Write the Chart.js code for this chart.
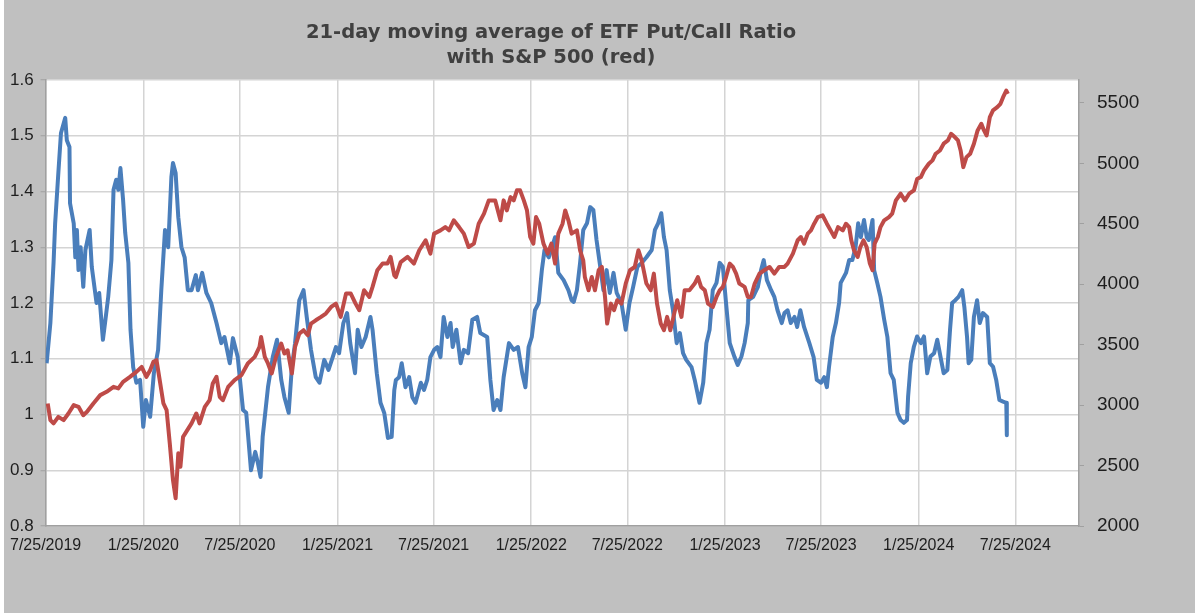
<!DOCTYPE html>
<html>
<head>
<meta charset="utf-8">
<title>ETF Put/Call Ratio with S&amp;P 500</title>
<script src="https://cdn.jsdelivr.net/npm/chart.js@4.4.1/dist/chart.umd.min.js"></script>
<style>
    html, body { margin: 0; padding: 0; background: #ffffff; }
    #wrap { position: relative; width: 1200px; height: 613px; }
</style>
</head>
<body>
<div id="wrap"><canvas id="chart" width="1200" height="613"></canvas></div>
<script>
(function() {
    'use strict';

    const titleLines = ['21-day moving average of ETF Put/Call Ratio', 'with S&P 500 (red)'];

    // x axis: day offsets from the first date
    const startDate = '7/25/2019';
    const endDate = '11/22/2024';
    const xTickLabels = ['7/25/2019', '1/25/2020', '7/25/2020', '1/25/2021', '7/25/2021', '1/25/2022',
        '7/25/2022', '1/25/2023', '7/25/2023', '1/25/2024', '7/25/2024'];

    const ratioTicks = [0.8, 0.9, 1, 1.1, 1.2, 1.3, 1.4, 1.5, 1.6];
    const ratioTickLabels = ['0.8', '0.9', '1', '1.1', '1.2', '1.3', '1.4', '1.5', '1.6'];
    const spxTicks = [2000, 2500, 3000, 3500, 4000, 4500, 5000, 5500];

    // 21-day MA of ETF put/call ratio (blue, left axis)
    const ratioDays = [2,9,15,18,24,29,37,40,45,46,53,56,59,62,66,71,75,83,87,96,
        101,108,112,118,124,128,133,137,141,146,150,156,160,165,171,178,184,189,197,204,
        212,218,225,231,237,240,245,250,256,262,268,275,283,287,295,303,312,322,331,
        337,347,353,362,372,378,387,395,400,405,409,419,428,436,444,450,458,464,470,478,
        486,492,500,509,516,525,533,541,547,553,561,568,574,583,588,595,603,612,616,624,
        631,638,645,652,657,
        660,666,671,678,685,691,697,707,713,719,725,732,738,744,750,757,763,767,774,782,
        788,796,804,813,819,832,838,844,851,857,863,873,882,890,898,904,910,916,922,929,
        935,940,948,954,960,966,976,985,991,
        995,1001,1007,1013,1020,1026,1032,1038,1045,1051,1057,1063,1070,1076,1085,1093,1100,1107,1115,1123,
        1132,1142,1148,1154,1160,1165,1170,1176,1182,1189,1195,1201,1207,1217,1223,1232,1239,1245,1251,1257,
        1264,1270,1276,1282,1289,1298,1304,1311,
        1317,1323,1324,1333,1342,1348,1353,1359,1367,1373,1379,1387,1392,1398,1404,1411,1416,1422,1429,1439,
        1447,1453,1461,1467,1472,1476,1483,1489,1495,1498,1508,1514,1520,1526,1531,1536,1542,1547,1551,1558,
        1561,1567,1573,1580,1586,1592,1598,1605,1611,1617,1623,
        1625,1630,1636,1642,1649,1655,1661,1667,1674,1680,1686,1692,1699,1704,1708,1714,1720,1727,1731,1736,
        1739,1744,1749,1755,1760,1766,1774,1779,1785,1791,1797,1804,1810,1811];
    const ratioValues = [1.092,1.164,1.272,1.343,1.433,1.505,1.532,1.492,1.48,1.379,1.343,1.282,1.331,1.259,1.30,1.229,1.295,1.331,1.265,1.2,
        1.218,1.134,1.164,1.211,1.277,1.403,1.421,1.403,1.442,1.385,1.326,1.272,1.152,1.085,1.057,1.062,0.978,1.026,0.996,1.074,
        1.116,1.223,1.331,1.30,1.426,1.451,1.433,1.354,1.30,1.282,1.223,1.223,1.25,1.223,1.254,1.218,1.2,1.164,1.128,
        1.139,1.092,1.137,1.103,1.008,1.003,0.9,0.933,0.913,0.888,0.96,1.049,1.103,1.134,1.062,1.031,1.003,1.085,1.128,1.205,
        1.223,1.175,1.116,1.067,1.057,1.098,1.08,1.103,1.121,1.11,1.164,1.182,1.128,1.074,1.152,1.121,1.139,1.175,1.152,1.074,
        1.021,1.003,0.958,0.96,1.044,
        1.062,1.067,1.092,1.049,1.067,1.031,1.021,1.057,1.044,1.062,1.103,1.116,1.121,1.103,1.175,1.139,1.164,1.121,1.152,1.092,
        1.116,1.11,1.17,1.175,1.146,1.139,1.062,1.008,1.026,1.008,1.067,1.128,1.116,1.121,1.074,1.049,1.121,1.139,1.187,1.2,
        1.259,1.295,1.282,1.30,1.318,1.254,1.241,1.223,1.205,
        1.202,1.223,1.272,1.331,1.343,1.372,1.367,1.313,1.265,1.223,1.259,1.218,1.254,1.218,1.2,1.152,1.2,1.229,1.265,1.272,
        1.282,1.295,1.331,1.343,1.361,1.318,1.295,1.223,1.187,1.128,1.146,1.11,1.098,1.085,1.062,1.021,1.057,1.128,1.152,1.223,
        1.236,1.272,1.265,1.2,1.128,1.103,1.089,1.104,
        1.128,1.164,1.205,1.211,1.229,1.259,1.277,1.241,1.223,1.211,1.187,1.164,1.182,1.187,1.164,1.175,1.157,1.187,1.157,1.128,
        1.103,1.062,1.057,1.067,1.049,1.085,1.139,1.164,1.2,1.236,1.254,1.277,1.277,1.30,1.343,1.318,1.349,1.318,1.313,1.349,
        1.259,1.236,1.211,1.17,1.139,1.074,1.062,1.003,0.99,0.985,0.99,
        1.032,1.092,1.122,1.14,1.128,1.14,1.074,1.104,1.11,1.134,1.104,1.074,1.08,1.152,1.2,1.205,1.211,1.223,1.193,1.14,
        1.092,1.098,1.175,1.205,1.164,1.182,1.175,1.092,1.086,1.062,1.026,1.023,1.021,0.963];

    // S&P 500 (red, right axis)
    const spxDays = [4,9,15,24,34,43,53,62,71,78,90,103,115,128,137,146,159,171,181,190,
        197,203,209,215,222,228,234,240,245,250,254,259,267,275,284,290,300,309,315,322,
        328,334,344,356,369,381,394,403,406,413,419,426,434,444,450,456,464,470,478,486,
        494,500,509,519,528,538,547,556,566,575,584,591,600,610,616,625,635,644,650,657,
        660,669,682,694,704,716,725,732,744,753,760,769,779,788,797,807,816,826,835,847,
        857,863,869,876,882,888,894,901,907,913,919,924,930,938,946,953,960,966,974,979,
        985,991,1001,1007,1013,1016,1023,1029,1035,1042,1048,1054,1058,1065,1071,1077,1085,1093,1101,1110,
        1117,1123,1132,1140,1146,1152,1159,1165,1171,1177,1183,1190,1198,1204,1213,1223,1229,1235,1242,1248,
        1257,1264,1270,1276,1282,1289,1295,1301,1307,1317,1323,1329,1336,1345,1354,1364,1373,1382,1392,1398,
        1408,1417,1423,1429,1436,1442,1448,1455,1464,1472,1479,1486,1493,1502,1508,1514,1518,1523,1530,1535,
        1541,1547,1553,1558,1562,1568,1573,1580,1589,1595,1602,1611,1619,1627,1636,1642,1649,1655,1664,1671,
        1677,1685,1692,1700,1706,1713,1719,1724,1729,1735,1742,1749,1756,1763,1768,1773,1779,1785,1793,1799,
        1804,1810,1813];
    const spxValues = [3014,2876,2849,2903,2876,2931,3000,2986,2917,2945,3014,3083,3110,3151,3138,3193,3234,3275,3316,3234,
        3289,3358,3372,3207,3014,2959,2683,2380,2229,2601,2490,2738,2793,2849,2931,2849,2986,3041,3179,3234,
        3069,3041,3151,3207,3248,3345,3399,3482,3564,3399,3345,3262,3399,3510,3427,3454,3262,3482,3592,3620,
        3578,3675,3702,3730,3758,3812,3840,3730,3923,3923,3840,3785,3950,3895,3978,4116,4171,4171,4226,4074,
        4060,4184,4226,4171,4281,4364,4254,4419,4446,4473,4446,4529,4473,4419,4308,4336,4501,4584,4694,4694,
        4529,4694,4611,4721,4694,4777,4777,4694,4611,4391,4336,4556,4501,4336,4254,4336,4171,4419,4501,4611,
        4529,4419,4446,4281,4198,4060,3950,4060,3950,4116,4143,3895,3675,3840,3785,3868,3840,4006,4116,4143,
        4281,4198,4006,3950,4088,3840,3675,3620,3730,3620,3730,3868,3730,3950,3950,4006,4060,3978,3950,3840,
        3812,3895,3950,3978,4060,4171,4143,4088,4006,3978,3895,3895,4006,4088,4116,4143,4088,4143,4143,4171,
        4254,4364,4391,4336,4419,4446,4501,4556,4570,4501,4446,4391,4473,4446,4501,4473,4364,4281,4226,4308,
        4364,4308,4171,4116,4336,4391,4473,4529,4556,4584,4694,4749,4694,4749,4777,4870,4887,4942,4997,5025,
        5080,5107,5163,5190,5245,5218,5190,5107,4969,5052,5080,5163,5273,5328,5273,5231,5383,5438,5465,5493,
        5548,5603,5576];

    function dayOffset(label) {
        const p = label.split('/').map(Number);
        const s = startDate.split('/').map(Number);
        return Math.round((Date.UTC(p[2], p[0] - 1, p[1]) - Date.UTC(s[2], s[0] - 1, s[1])) / 86400000);
    }
    const xTickDays = xTickLabels.map(dayOffset);

    const tickFont = { family: '"Liberation Sans", Arial, sans-serif' };

    const chartBackdrop = {
        id: 'chartBackdrop',
        beforeDraw: function(chart) {
            const ctx = chart.ctx, a = chart.chartArea;
            ctx.save();
            ctx.fillStyle = '#ffffff';
            ctx.fillRect(0, 0, chart.width, chart.height);
            ctx.fillStyle = '#c0c0c0';
            ctx.fillRect(4, 0, 1191, chart.height);
            ctx.fillStyle = '#ffffff';
            ctx.fillRect(a.left, a.top, a.right - a.left, a.bottom - a.top);
            // title
            ctx.fillStyle = '#404040';
            ctx.font = 'bold 19.5px "DejaVu Sans", Verdana, sans-serif';
            ctx.textAlign = 'center';
            ctx.textBaseline = 'middle';
            ctx.fillText(titleLines[0], 551, 33);
            ctx.fillText(titleLines[1], 551, 58);
            ctx.restore();
        }
    };

    new Chart(document.getElementById('chart'), {
        type: 'line',
        data: {
            datasets: [{
                label: 'ETF Put/Call Ratio (21-day MA)',
                data: ratioDays.map(function(d, i) { return { x: d, y: ratioValues[i] }; }),
                yAxisID: 'y',
                borderColor: '#4a7ebb',
                borderWidth: 4,
                pointRadius: 0,
                borderJoinStyle: 'round',
                order: 1
            }, {
                label: 'S&P 500',
                data: spxDays.map(function(d, i) { return { x: d, y: spxValues[i] }; }),
                yAxisID: 'y2',
                borderColor: '#be4b48',
                borderWidth: 4,
                pointRadius: 0,
                borderJoinStyle: 'round',
                order: 0
            }]
        },
        options: {
            responsive: false,
            animation: false,
            layout: { padding: { top: 80, left: 0, right: 0, bottom: 0 } },
            plugins: { legend: { display: false }, tooltip: { enabled: false }, title: { display: false } },
            scales: {
                x: {
                    type: 'linear',
                    min: 0,
                    max: dayOffset(endDate),
                    afterBuildTicks: function(axis) { axis.ticks = xTickDays.map(function(v) { return { value: v }; }); },
                    afterFit: function(axis) { axis.height = 87; },
                    ticks: {
                        autoSkip: false, maxRotation: 0, padding: 10, color: '#1e1e1e',
                        font: Object.assign({ size: 16 }, tickFont),
                        callback: function(v, i) { return xTickLabels[i]; }
                    },
                    grid: { color: '#d4d4d4', lineWidth: 1.5, drawTicks: false },
                    border: { color: '#a0a0a0', width: 1.5 }
                },
                y: {
                    position: 'left',
                    min: 0.8,
                    max: 1.6,
                    afterBuildTicks: function(axis) { axis.ticks = ratioTicks.map(function(v) { return { value: v }; }); },
                    afterFit: function(axis) { axis.width = 43; },
                    ticks: {
                        padding: 7, color: '#1e1e1e',
                        font: Object.assign({ size: 17 }, tickFont),
                        callback: function(v, i) { return ratioTickLabels[i]; }
                    },
                    grid: { color: '#d4d4d4', lineWidth: 1.5, tickLength: 5, tickColor: '#a0a0a0', tickWidth: 1 },
                    border: { color: '#a0a0a0', width: 1.5 }
                },
                y2: {
                    position: 'right',
                    min: 2000,
                    max: 5690,
                    afterBuildTicks: function(axis) { axis.ticks = spxTicks.map(function(v) { return { value: v }; }); },
                    afterFit: function(axis) { axis.width = 121; },
                    ticks: {
                        padding: 13, color: '#1e1e1e',
                        font: Object.assign({ size: 19 }, tickFont),
                        callback: function(v) { return String(v); }
                    },
                    grid: { drawOnChartArea: false, tickLength: 5, tickColor: '#a0a0a0', tickWidth: 1 },
                    border: { color: '#a0a0a0', width: 1.5 }
                }
            }
        },
        plugins: [chartBackdrop]
    });
})();
</script>
</body>
</html>
